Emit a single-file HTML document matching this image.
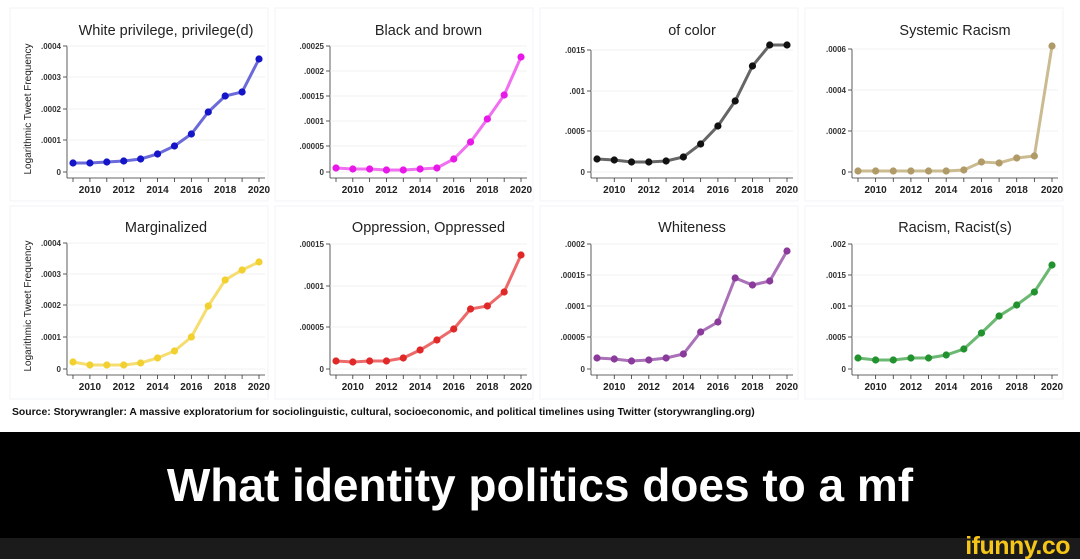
<!DOCTYPE html>
<html><head><meta charset="utf-8"><style>
body{margin:0;width:1080px;height:559px;overflow:hidden;background:#fff;font-family:"Liberation Sans",Arial,sans-serif}
#blk{position:absolute;left:0;top:432px;width:1080px;height:106px;background:#000;color:#fff;font-size:46px;text-align:center;line-height:106px;font-weight:bold}
#ft{position:absolute;left:0;top:538px;width:1080px;height:21px;background:#1b1b1b}
#logo{position:absolute;right:10px;top:532px;color:#f5c518;font-weight:bold;font-size:25px;letter-spacing:-0.5px;line-height:28px}
</style></head><body>
<svg id="s" width="1080" height="432" style="position:absolute;left:0;top:0" font-family="Liberation Sans, Arial, sans-serif"></svg>
<div id="blk">What identity politics does to a mf</div>
<div id="ft"></div>
<div id="logo">ifunny.co</div>
<script>
const P=[
{x0:73,x1:259,y0:172,t:"White privilege, privilege(d)",tk:[[".0001",140],[".0002",109],[".0003",77],[".0004",46]],c:"#1414c8",l:"#6a6ad8",ys:[163,163,162,161,159,154,146,134,112,96,92,59],yl:1},
{x0:336,x1:521,y0:172,t:"Black and brown",tk:[[".00005",146],[".0001",121],[".00015",96],[".0002",71],[".00025",46]],c:"#e818e8",l:"#f070f0",ys:[168,169,169,170,170,169,168,159,142,119,95,57]},
{x0:597,x1:787,y0:172,t:"of color",tk:[[".0005",131],[".001",91],[".0015",50]],c:"#111",l:"#666",ys:[159,160,162,162,161,157,144,126,101,66,45,45]},
{x0:858,x1:1052,y0:172,t:"Systemic Racism",tk:[[".0002",131],[".0004",90],[".0006",49]],c:"#b09a68",l:"#cbbb90",ys:[171,171,171,171,171,171,170,162,163,158,156,46]},
{x0:73,x1:259,y0:369,t:"Marginalized",tk:[[".0001",337],[".0002",305],[".0003",274],[".0004",243]],c:"#f2d030",l:"#f5dd70",ys:[362,365,365,365,363,358,351,337,306,280,270,262],yl:1},
{x0:336,x1:521,y0:369,t:"Oppression, Oppressed",tk:[[".00005",327],[".0001",286],[".00015",244]],c:"#e02828",l:"#ec6a6a",ys:[361,362,361,361,358,350,340,329,309,306,292,255]},
{x0:597,x1:787,y0:369,t:"Whiteness",tk:[[".00005",337],[".0001",306],[".00015",275],[".0002",244]],c:"#8a3a9a",l:"#aa70b8",ys:[358,359,361,360,358,354,332,322,278,285,281,251]},
{x0:858,x1:1052,y0:369,t:"Racism, Racist(s)",tk:[[".0005",337],[".001",306],[".0015",275],[".002",244]],c:"#22922f",l:"#6ab872",ys:[358,360,360,358,358,355,349,333,316,305,292,265]}];
let h='';
for(let r=0;r<2;r++)for(let c=0;c<4;c++){h+=`<rect x="${10+c*265}" y="${8+r*198}" width="258" height="193" fill="none" stroke="#f2f3f5" stroke-width="1"/>`;}
P.forEach(p=>{
 const st=(p.x1-p.x0)/11, ax=p.x0-6, ay=p.y0+6, right=p.x1+6;
 const top=p.tk[p.tk.length-1][1];
 const ty=p.y0<200?35:232;
 h+=`<text x="${(p.x0+p.x1)/2}" y="${ty}" font-size="14.5" text-anchor="middle" fill="#222">${p.t}</text>`;
 h+=`<line x1="${ax}" y1="${top}" x2="${ax}" y2="${ay}" stroke="#333" stroke-width="0.8"/>`;
 h+=`<line x1="${ax}" y1="${ay}" x2="${right}" y2="${ay}" stroke="#333" stroke-width="0.8"/>`;
 [["0",p.y0]].concat(p.tk).forEach(([s,y])=>{
  h+=`<line x1="${ax}" y1="${y}" x2="${right}" y2="${y}" stroke="#eee" stroke-width="0.8"/>`;
  h+=`<line x1="${ax-4}" y1="${y}" x2="${ax}" y2="${y}" stroke="#333" stroke-width="0.8"/>`;
  h+=`<text x="${ax-6}" y="${y+3}" font-size="8" font-weight="bold" text-anchor="end" fill="#333">${s}</text>`;});
 for(let i=0;i<12;i++){const x=p.x0+i*st;h+=`<line x1="${x}" y1="${ay}" x2="${x}" y2="${ay+4}" stroke="#333" stroke-width="0.8"/>`;
  if(i%2==1)h+=`<text x="${x}" y="${ay+15}" font-size="10" font-weight="bold" text-anchor="middle" fill="#222">${2009+i}</text>`;}
 h+=`<polyline points="${p.ys.map((y,i)=>(p.x0+i*st)+','+y).join(' ')}" fill="none" stroke="${p.l}" stroke-width="3"/>`;
 p.ys.forEach((y,i)=>h+=`<circle cx="${p.x0+i*st}" cy="${y}" r="3.6" fill="${p.c}"/>`);
 if(p.yl)h+=`<text transform="translate(31,${(top+p.y0)/2}) rotate(-90)" font-size="10" text-anchor="middle" fill="#222">Logarithmic Tweet Frequency</text>`;
});
h+=`<text x="12" y="415" font-size="10.4" font-weight="bold" fill="#111">Source: Storywrangler: A massive exploratorium for sociolinguistic, cultural, socioeconomic, and political timelines using Twitter (storywrangling.org)</text>`;
document.getElementById('s').innerHTML=h;
</script>
</body></html>
